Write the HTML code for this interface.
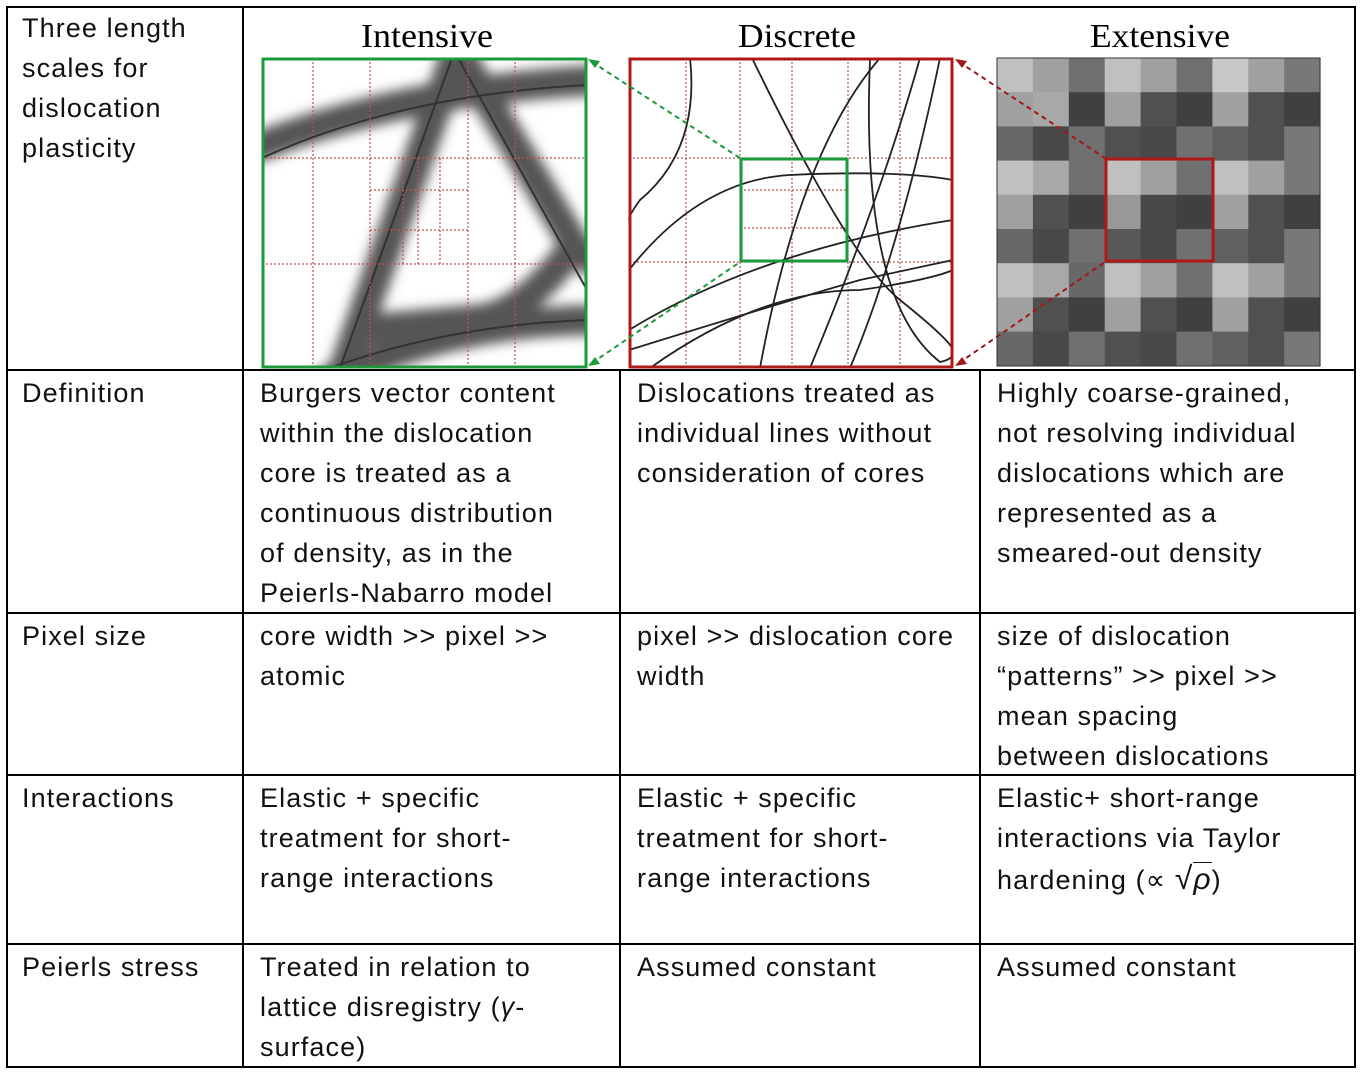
<!DOCTYPE html>
<html><head><meta charset="utf-8"><style>
body{margin:0;width:1360px;height:1073px;background:#fff;position:relative;overflow:hidden;font-family:"Liberation Sans",sans-serif;}
.l{position:absolute;background:#000;}
.t{position:absolute;font-size:27px;letter-spacing:1.1px;line-height:40px;color:#111;white-space:nowrap;}
</style></head><body>
<div class="l" style="left:6px;top:6px;width:1350px;height:2px"></div>
<div class="l" style="left:6px;top:369px;width:1350px;height:2px"></div>
<div class="l" style="left:6px;top:612px;width:1350px;height:2px"></div>
<div class="l" style="left:6px;top:774px;width:1350px;height:2px"></div>
<div class="l" style="left:6px;top:943px;width:1350px;height:2px"></div>
<div class="l" style="left:6px;top:1066px;width:1350px;height:2px"></div>
<div class="l" style="left:6px;top:6px;width:2px;height:1062px"></div>
<div class="l" style="left:242px;top:6px;width:2px;height:1062px"></div>
<div class="l" style="left:619px;top:370px;width:2px;height:698px"></div>
<div class="l" style="left:979px;top:370px;width:2px;height:698px"></div>
<div class="l" style="left:1354px;top:6px;width:2px;height:1062px"></div>

<svg style="position:absolute;left:0;top:0" width="1360" height="372">
<defs><filter id="b" x="-20%" y="-20%" width="140%" height="140%"><feGaussianBlur stdDeviation="6"/></filter>
<clipPath id="c1"><rect x="262" y="58" width="325" height="310"/></clipPath></defs>
<g font-family="Liberation Serif,serif" font-size="34" text-anchor="middle" fill="#000">
<text x="427" y="47" textLength="132" lengthAdjust="spacingAndGlyphs">Intensive</text><text x="797" y="47" textLength="118" lengthAdjust="spacingAndGlyphs">Discrete</text><text x="1160" y="47" textLength="140" lengthAdjust="spacingAndGlyphs">Extensive</text></g>
<g clip-path="url(#c1)">
<g filter="url(#b)" stroke="#555" stroke-width="30" fill="none" stroke-linecap="round">
<path d="M250 150 Q400 90 600 80"/>
<path d="M455 55 L340 380"/>
<path d="M460 55 L575 245 L590 260"/>
<path d="M575 245 Q520 320 470 320 L360 330"/>
<path d="M330 380 Q450 320 600 320"/>
</g>
<g stroke="#333" stroke-width="2" fill="none">
<path d="M262 158 Q400 95 587 85"/><path d="M452 58 L340 368"/><path d="M458 58 L587 290"/><path d="M330 368 Q450 325 587 320"/></g>
</g>
<g stroke="#b55" stroke-width="1.2" stroke-dasharray="2 2" fill="none">
<path d="M262 158H587M262 264H587M313 58V368M370 58V368M418 158V264M468 58V368M515 58V368M370 190H468M370 230H468M403 158V264M440 158V264"/>
<path d="M629 158H953M629 262H953M686 58V368M740 58V368M792 58V368M848 58V368M900 58V368M740 190H848M740 228H848"/>
<path d="M1103 58V366M1213 58V366"/>
</g>
<rect x="263" y="59" width="323" height="308" fill="none" stroke="#1a9a3a" stroke-width="3"/>
<g stroke="#222" stroke-width="1.8" fill="none">
<path d="M690 58 Q700 150 640 200 Q629 215 629 220"/>
<path d="M629 270 Q700 180 790 175 Q900 170 953 180"/>
<path d="M752 58 Q850 260 900 300 Q950 340 953 350"/>
<path d="M629 330 Q760 250 953 220"/>
<path d="M629 350 Q790 300 860 280 L953 260"/>
<path d="M650 368 Q760 290 860 290 Q930 280 953 270"/>
<path d="M880 58 Q800 150 760 368"/>
<path d="M920 58 Q880 200 810 368"/>
<path d="M940 58 Q900 250 850 368"/>
<path d="M870 60 Q860 300 940 362 Q950 360 953 355"/>
</g>
<rect x="630" y="59" width="322" height="308" fill="none" stroke="#b01818" stroke-width="3"/>
<rect x="741" y="159" width="106" height="102" fill="none" stroke="#1a9a3a" stroke-width="3"/>
<g stroke="#1a9a3a" stroke-width="2" stroke-dasharray="5 4"><path d="M592 62L740 158M592 363L740 262"/></g>
<g fill="#1a9a3a"><path d="M588 59L600 61L595 68Z"/><path d="M588 366L595 357L600 364Z"/></g>
<g id="ext"></g>
<g stroke="#a01818" stroke-width="2" stroke-dasharray="5 4"><path d="M959 62L1105 158M959 363L1105 262"/></g>
<g fill="#a01818"><path d="M955 59L967 61L962 68Z"/><path d="M955 366L962 357L967 364Z"/></g>
<rect x="1106" y="159" width="107" height="102" fill="none" stroke="#b01818" stroke-width="3"/>
<rect x="997" y="58" width="323" height="308" fill="none" stroke="#333" stroke-width="1"/>
</svg>
<script>
var v=[["c0","a0","70","c0","a0","70","c8","a0","78"],["a0","a8","40","a0","50","40","a0","50","40"],["68","48","70","50","48","70","60","50","78"],["c0","a8","70","c0","a0","70","c0","a0","78"],["a0","50","40","98","48","40","a0","50","40"],["68","48","70","58","48","70","60","50","78"],["c0","a8","68","c0","a0","70","c0","a0","78"],["a0","50","40","a0","50","40","a0","50","40"],["68","48","70","50","48","70","60","50","78"]];
var s="";for(var r=0;r<9;r++)for(var c=0;c<9;c++){var g=v[r][c];s+='<rect x="'+(997+c*35.9)+'" y="'+(58+r*34.2)+'" width="36.4" height="34.7" fill="#'+g+g+g+'"/>';}
document.getElementById("ext").innerHTML=s;
</script>

<div class="t" style="left:22px;top:8px">Three length<br>scales for<br>dislocation<br>plasticity</div>
<div class="t" style="left:22px;top:373px">Definition</div>
<div class="t" style="left:260px;top:373px">Burgers vector content<br>within the dislocation<br>core is treated as a<br>continuous distribution<br>of density, as in the<br>Peierls-Nabarro model</div>
<div class="t" style="left:637px;top:373px">Dislocations treated as<br>individual lines without<br>consideration of cores</div>
<div class="t" style="left:997px;top:373px">Highly coarse-grained,<br>not resolving individual<br>dislocations which are<br>represented as a<br>smeared-out density</div>
<div class="t" style="left:22px;top:616px">Pixel size</div>
<div class="t" style="left:260px;top:616px">core width &gt;&gt; pixel &gt;&gt;<br>atomic</div>
<div class="t" style="left:637px;top:616px">pixel &gt;&gt; dislocation core<br>width</div>
<div class="t" style="left:997px;top:616px">size of dislocation<br>“patterns” &gt;&gt; pixel &gt;&gt;<br>mean spacing<br>between dislocations</div>
<div class="t" style="left:22px;top:778px">Interactions</div>
<div class="t" style="left:260px;top:778px">Elastic + specific<br>treatment for short-<br>range interactions</div>
<div class="t" style="left:637px;top:778px">Elastic + specific<br>treatment for short-<br>range interactions</div>
<div class="t" style="left:997px;top:778px">Elastic+ short-range<br>interactions via Taylor<br>hardening (∝ <span style="font-size:32px">√</span><span style="border-top:1.5px solid #111;font-style:italic;font-size:30px">ρ</span>)</div>
<div class="t" style="left:22px;top:947px">Peierls stress</div>
<div class="t" style="left:260px;top:947px">Treated in relation to<br>lattice disregistry (<i>γ</i>-<br>surface)</div>
<div class="t" style="left:637px;top:947px">Assumed constant</div>
<div class="t" style="left:997px;top:947px">Assumed constant</div>
</body></html>
